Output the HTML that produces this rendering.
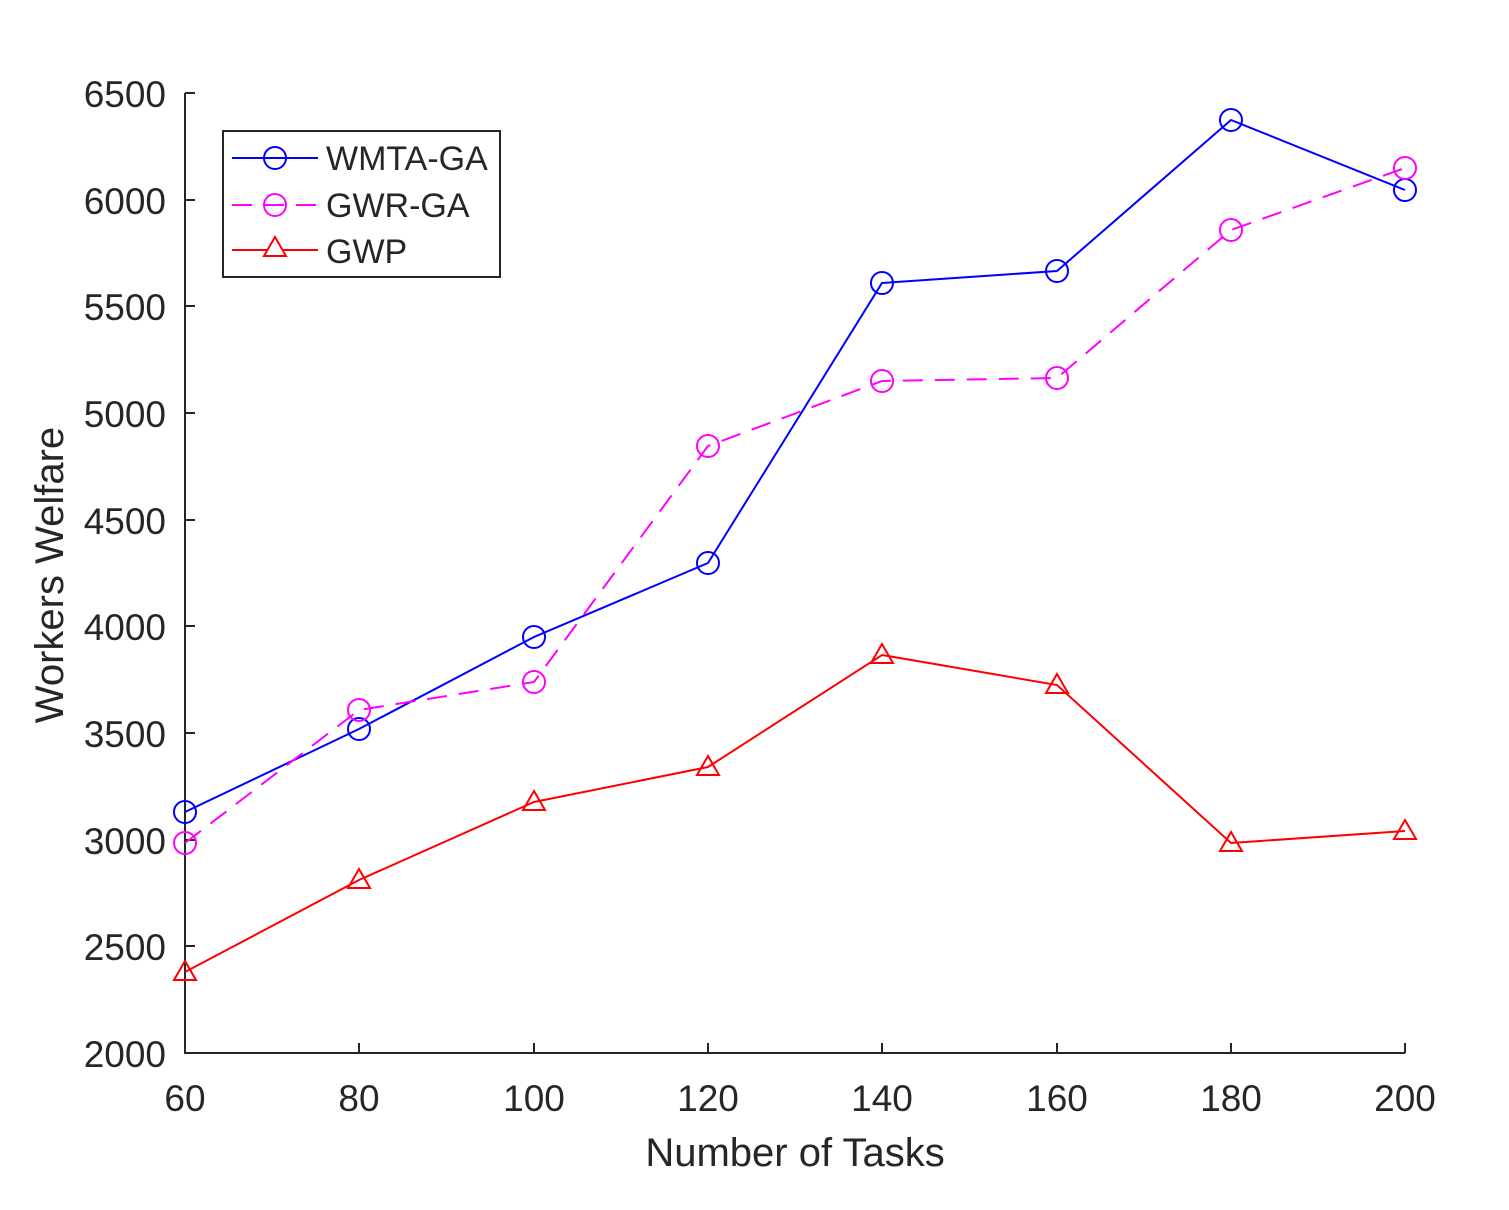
<!DOCTYPE html>
<html><head><meta charset="utf-8"><style>body{margin:0;background:#fff}svg{display:block}</style></head>
<body>
<svg width="1509" height="1210" xmlns="http://www.w3.org/2000/svg" font-family="Liberation Sans, sans-serif">
<rect width="1509" height="1210" fill="#fff"/>
<g stroke="#262626" stroke-width="2" fill="none">
<path d="M185,93 V1053 H1405"/>
<path d="M185,93h10M185,200h10M185,306h10M185,413h10M185,520h10M185,626h10M185,733h10M185,840h10M185,946h10"/>
<path d="M359,1053v-10M534,1053v-10M708,1053v-10M882,1053v-10M1057,1053v-10M1231,1053v-10M1405,1053v-10"/>
</g>
<g font-size="37" fill="#262626" text-anchor="end">
<text x="166" y="107">6500</text><text x="166" y="214">6000</text><text x="166" y="320">5500</text>
<text x="166" y="427">5000</text><text x="166" y="534">4500</text><text x="166" y="640">4000</text>
<text x="166" y="747">3500</text><text x="166" y="854">3000</text><text x="166" y="960">2500</text><text x="166" y="1067">2000</text>
</g>
<g font-size="37" fill="#262626" text-anchor="middle">
<text x="185" y="1111">60</text><text x="359" y="1111">80</text><text x="534" y="1111">100</text><text x="708" y="1111">120</text>
<text x="882" y="1111">140</text><text x="1057" y="1111">160</text><text x="1231" y="1111">180</text><text x="1405" y="1111">200</text>
</g>
<g font-size="40" fill="#262626" text-anchor="middle">
<text x="795" y="1166">Number of Tasks</text>
<text transform="translate(63,575) rotate(-90)">Workers Welfare</text>
</g>
<g fill="none" stroke-width="2">
<polyline stroke="#0000ff" points="185,812 359,729 534,637 708,563 882,283 1057,271 1231,120 1405,190"/>
<g stroke="#0000ff"><circle cx="185" cy="812" r="11"/><circle cx="359" cy="729" r="11"/><circle cx="534" cy="637" r="11"/><circle cx="708" cy="563" r="11"/><circle cx="882" cy="283" r="11"/><circle cx="1057" cy="271" r="11"/><circle cx="1231" cy="120" r="11"/><circle cx="1405" cy="190" r="11"/></g>
<polyline stroke="#ff00ff" stroke-dasharray="20,12" points="185,843 359,710 534,682 708,446 882,381 1057,378 1231,230 1405,168"/>
<g stroke="#ff00ff"><circle cx="185" cy="843" r="11"/><circle cx="359" cy="710" r="11"/><circle cx="534" cy="682" r="11"/><circle cx="708" cy="446" r="11"/><circle cx="882" cy="381" r="11"/><circle cx="1057" cy="378" r="11"/><circle cx="1231" cy="230" r="11"/><circle cx="1405" cy="168" r="11"/></g>
<polyline stroke="#ff0000" points="185,972 359,880 534,802 708,767 882,655 1057,685 1231,843 1405,831"/>
<g stroke="#ff0000">
<path d="M185,961l11,19h-22z"/><path d="M359,869l11,19h-22z"/><path d="M534,791l11,19h-22z"/><path d="M708,756l11,19h-22z"/>
<path d="M882,644l11,19h-22z"/><path d="M1057,674l11,19h-22z"/><path d="M1231,832l11,19h-22z"/><path d="M1405,820l11,19h-22z"/></g>
</g>
<rect x="223" y="131" width="277" height="146" fill="#fff" stroke="#262626" stroke-width="2"/>
<g fill="none" stroke-width="2">
<path d="M232,158h86" stroke="#0000ff"/><circle cx="275" cy="158" r="11" stroke="#0000ff"/>
<path d="M232,205h86" stroke="#ff00ff" stroke-dasharray="20,12"/><circle cx="275" cy="205" r="11" stroke="#ff00ff"/>
<path d="M232,250h86" stroke="#ff0000"/><path d="M275,237l11,19h-22z" stroke="#ff0000" fill="#fff"/>
</g>
<g font-size="34" fill="#262626">
<text x="326" y="170">WMTA-GA</text><text x="326" y="217">GWR-GA</text><text x="326" y="263">GWP</text>
</g>
</svg>
</body></html>
